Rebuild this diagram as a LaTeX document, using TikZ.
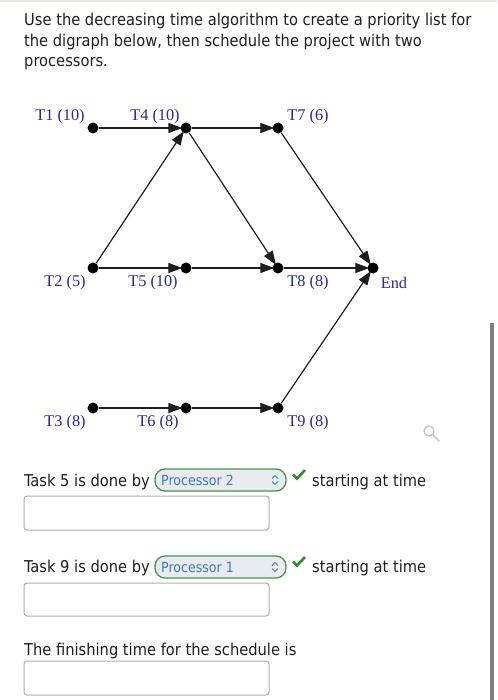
\documentclass[tikz,border=0pt]{standalone}
\usepackage{fontspec}
\setmainfont{Liberation Serif}
\newfontfamily\uifont{DejaVu Sans Condensed}
\usetikzlibrary{arrows.meta}
\definecolor{lblblue}{RGB}{40,40,150}
\definecolor{edgegray}{RGB}{30,30,30}
\definecolor{selgreen}{RGB}{70,150,70}
\definecolor{selfill}{RGB}{233,235,240}
\definecolor{seltext}{RGB}{60,120,190}
\definecolor{boxgray}{RGB}{175,175,175}
\definecolor{chk}{RGB}{50,140,50}
\tikzset{
  dotnode/.style={circle,fill=black,inner sep=0pt,minimum size=11pt},
  lbl/.style={text=lblblue,font=\fontsize{16.3}{18}\selectfont,inner sep=0pt},
  edge/.style={draw=edgegray,line width=1.2pt,-{Triangle[length=14pt,width=10pt]},shorten >=-2pt},
  ui/.style={font=\uifont\fontsize{16.3}{20}\selectfont,anchor=base west,inner sep=0pt,text=black!88},
  selbox/.style={draw=selgreen,line width=1.3pt,fill=selfill,rounded corners=10pt},
  inbox/.style={draw=boxgray,line width=1pt,rounded corners=3pt},
  seltxt/.style={font=\uifont\fontsize{14}{16}\selectfont,text=seltext,anchor=base west,inner sep=0pt},
  chev/.style={draw=seltext,line width=1pt},
  chkmark/.style={draw=chk,line width=2.6pt},
}
\begin{document}
\begin{tikzpicture}[x=1pt,y=-1pt]
\useasboundingbox (0,0) rectangle (497,700);
\fill[white] (0,0) rectangle (497,700);
\draw[color={rgb,255:red,228;green,228;blue,236},line width=2pt] (0,1) -- (497,1);
% question text
\node[ui] (q1) at (24,26) {Use the decreasing time algorithm to create a priority list for};
\node[ui] (q2) at (24,46.5) {the digraph below, then schedule the project with two};
\node[ui] (q3) at (24,67) {processors.};
% graph nodes
\node[dotnode] (t1) at (93,128) {};
\node[dotnode] (t4) at (186,128) {};
\node[dotnode] (t7) at (278,128) {};
\node[dotnode] (t2) at (93,268) {};
\node[dotnode] (t5) at (186,268) {};
\node[dotnode] (t8) at (278,268) {};
\node[dotnode] (en) at (373,268) {};
\node[dotnode] (t3) at (93,408) {};
\node[dotnode] (t6) at (186,408) {};
\node[dotnode] (t9) at (278,408) {};
% labels
\node[lbl] (l1) at (60,117) {T1 (10)};
\node[lbl] (l4) at (155,117) {T4 (10)};
\node[lbl] (l7) at (308,117) {T7 (6)};
\node[lbl] (l2) at (65,283) {T2 (5)};
\node[lbl] (l5) at (153,283) {T5 (10)};
\node[lbl] (l8) at (308,283) {T8 (8)};
\node[lbl] (le) at (394,283) {End};
\node[lbl] (l3) at (65,423) {T3 (8)};
\node[lbl] (l6) at (158,423) {T6 (8)};
\node[lbl] (l9) at (308,423) {T9 (8)};
% edges
\draw[edge] (t1) -- (t4);
\draw[edge] (t4) -- (t7);
\draw[edge] (t2) -- (t4);
\draw[edge] (t4) -- (t8);
\draw[edge] (t7) -- (en);
\draw[edge] (t2) -- (t5);
\draw[edge] (t5) -- (t8);
\draw[edge] (t8) -- (en);
\draw[edge] (t9) -- (en);
\draw[edge] (t3) -- (t6);
\draw[edge] (t6) -- (t9);
% magnifier
\draw[color=black!22,line width=1.3pt] (429,431) circle (5pt);
\draw[color=black!22,line width=1.6pt,line cap=round] (432.5,434.5) -- (439,441);
% scrollbar
\fill[color=black!50] (490,323) rectangle (494,700);
% task 5
\node[ui] (t5txt) at (24,486) {Task 5 is done by};
\draw[selbox] (155,469) rectangle (286,491);
\node[seltxt] (s5) at (161,485) {Processor 2};
\draw[chev] (272,478.5) -- (275,475.5) -- (278,478.5);
\draw[chev] (272,481.5) -- (275,484.5) -- (278,481.5);
\draw[chkmark] (293,474.5) -- (297,478.5) -- (305,470);
\node[ui] (st5) at (312,486) {starting at time};
\draw[inbox] (24,496) rectangle (269,530);
% task 9
\node[ui] (t9txt) at (24,572) {Task 9 is done by};
\draw[selbox] (155,556) rectangle (286,578);
\node[seltxt] (s9) at (161,572) {Processor 1};
\draw[chev] (272,565.5) -- (275,562.5) -- (278,565.5);
\draw[chev] (272,568.5) -- (275,571.5) -- (278,568.5);
\draw[chkmark] (293,561.5) -- (297,565.5) -- (305,557);
\node[ui] (st9) at (312,572) {starting at time};
\draw[inbox] (24,583) rectangle (269,616);
% finishing
\node[ui] (fin) at (24,655) {The finishing time for the schedule is};
\draw[inbox] (24,661) rectangle (269,695);
\end{tikzpicture}
\end{document}
